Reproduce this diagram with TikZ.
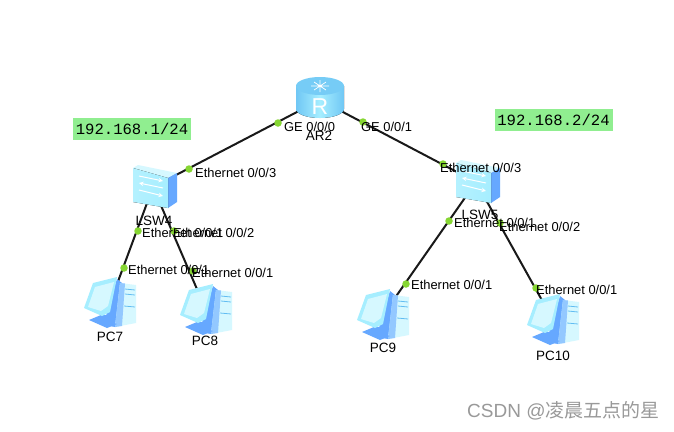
\documentclass[tikz,border=0pt]{standalone}
\usepackage{fontspec}
\setmainfont{Liberation Sans}
\setmonofont{Liberation Mono}
\newfontfamily\cjk{Noto Sans CJK SC}
\definecolor{lightblue}{HTML}{A6EEFF}
\definecolor{paleblue}{HTML}{D6F8FF}
\definecolor{midblue}{HTML}{62BDF2}
\definecolor{deepblue}{HTML}{66A8FF}
\definecolor{portgreen}{HTML}{86D632}
\definecolor{netgreen}{HTML}{90EE90}
\tikzset{
  device/.style={inner sep=0pt, minimum size=0pt},
  link/.style={line width=2pt, color=black!90},
  port/.style={circle, fill=portgreen, inner sep=0pt, minimum size=7.5pt},
  lbl/.style={anchor=west, inner sep=0pt, font=\fontsize{12.9}{14}\selectfont},
  devname/.style={inner sep=0pt, font=\fontsize{13.5}{15}\selectfont},
  net/.style={fill=netgreen, inner sep=0pt, minimum width=118pt, minimum height=22pt, font=\ttfamily\fontsize{15.6}{17}\selectfont},
  whiteline/.style={white, line width=1pt, -stealth},
  pcicon/.pic={
    \fill[deepblue] (7,-24) -- (12,-20) -- (5,24) -- (-6,22) -- (-3,9) -- cycle;
    \fill[paleblue] (10,-20) -- (26,-18) -- (26,20) -- (5,24) -- cycle;
    \fill[deepblue!60!paleblue] (10,-20) -- (15,-19.5) -- (12,23) -- (5,24) -- cycle;
    \draw[midblue, line width=0.8pt] (15,-14) -- (25,-13) (15,-9) -- (25,-8) (14,3) -- (25,4);
    \fill[deepblue] (-21,17) -- (-9,12) -- (-2,12) -- (-2,18) -- (7,21) -- (-3,25) -- cycle;
    \fill[lightblue] (-26,5) -- (-17,-20) -- (7,-26) -- (0,9) -- (-8,13) -- cycle;
    \fill[paleblue] (-22,4) -- (-15,-16) -- (4,-21) -- (-2,3) -- (-9,8) -- cycle;
  },
  routericon/.pic={
    \fill[left color=midblue!80!lightblue, right color=midblue!80!lightblue, middle color=lightblue] (-24,-14) -- (-24,9) arc[start angle=180, end angle=0, x radius=24, y radius=9] -- (24,-14) -- cycle;
    \fill[midblue!70!lightblue] (0,-14) ellipse[x radius=24, y radius=9];
    \draw[white, line width=0.7pt] (-9,-14) -- (9,-14) (0,-20) -- (0,-8) (-6,-18) -- (6,-10) (6,-18) -- (-6,-10);
  },
  switchicon/.pic={
    \fill[paleblue] (-15,-22) -- (24,-14) -- (15,-9) -- (-20,-19) -- cycle;
    \fill[deepblue] (15,-9) -- (24,-14) -- (24,15) -- (15,21) -- cycle;
    \fill[left color=lightblue!70!paleblue, right color=lightblue] (-20,-19) -- (15,-9) -- (15,21) -- (-20,15) -- cycle;
    \draw[whiteline] (-14,-11) -- (10,-6);
    \draw[whiteline] (10,1) -- (-14,-4);
    \draw[whiteline] (-14,3) -- (10,9);
  }
}
\begin{document}
\begin{tikzpicture}[x=1pt, y=-1pt]
   \path[use as bounding box, fill=white] (0,0) rectangle (674,431);
   % devices
   \draw (320,100) node[device] (ar2) {};
   \draw (153,187) node[device] (lsw4) {};
   \draw (476,182) node[device] (lsw5) {};
   \draw (110,303) node[device] (pc7) {};
   \draw (206,310) node[device] (pc8) {};
   \draw (383,315) node[device] (pc9) {};
   \draw (553,320) node[device] (pc10) {};
   % links
   \draw[link] (ar2) -- (lsw4);
   \draw[link] (ar2) -- (lsw5);
   \draw[link] (lsw4) -- (pc7);
   \draw[link] (lsw4) -- (pc8);
   \draw[link] (lsw5) -- (pc9);
   \draw[link] (lsw5) -- (pc10);
   % icons
   \pic at (ar2) {routericon};
   \draw (320,107) node[text=white, inner sep=0pt, font=\fontsize{23}{23}\selectfont] (rmark) {R};
   \pic at (lsw4) {switchicon};
   \pic at (lsw5) {switchicon};
   \pic at (pc7) {pcicon};
   \pic at (pc8) {pcicon};
   \pic at (pc9) {pcicon};
   \pic at (pc10) {pcicon};
   % ports
   \draw (278,123) node[port] (p1) {};
   \draw (189,169) node[port] (p2) {};
   \draw (363,122) node[port] (p3) {};
   \draw (443,164) node[port] (p4) {};
   \draw (138,231) node[port] (p5) {};
   \draw (124,268) node[port] (p6) {};
   \draw (174,231) node[port] (p7) {};
   \draw (193,271) node[port] (p8) {};
   \draw (449,221) node[port] (p9) {};
   \draw (406,284) node[port] (p10) {};
   \draw (500,223) node[port] (p11) {};
   \draw (536,288) node[port] (p12) {};
   % port labels
   \draw (284,127) node[lbl] (l1) {GE 0/0/0};
   \draw (195,173) node[lbl] (l2) {Ethernet 0/0/3};
   \draw (361,127) node[lbl] (l3) {GE 0/0/1};
   \draw (440,168) node[lbl] (l4) {Ethernet 0/0/3};
   \draw (142,233) node[lbl] (l5) {Ethernet 0/0/1};
   \draw (128,270) node[lbl] (l6) {Ethernet 0/0/1};
   \draw (173,233) node[lbl] (l7) {Ethernet 0/0/2};
   \draw (192,273) node[lbl] (l8) {Ethernet 0/0/1};
   \draw (454,223) node[lbl] (l9) {Ethernet 0/0/1};
   \draw (411,285) node[lbl] (l10) {Ethernet 0/0/1};
   \draw (499,227) node[lbl] (l11) {Ethernet 0/0/2};
   \draw (536,290) node[lbl] (l12) {Ethernet 0/0/1};
   % device names
   \draw (319,136) node[devname] (nar2) {AR2};
   \draw (154,221) node[devname] (nlsw4) {LSW4};
   \draw (480,215) node[devname] (nlsw5) {LSW5};
   \draw (110,337) node[devname] (npc7) {PC7};
   \draw (205,341) node[devname] (npc8) {PC8};
   \draw (383,348) node[devname] (npc9) {PC9};
   \draw (553,356) node[devname] (npc10) {PC10};
   % networks
   \draw (132,129) node[net] (net1) {192.168.1/24};
   \draw (553.5,120) node[net] (net2) {192.168.2/24};
   \draw (467,411) node[anchor=west, inner sep=0pt, text=black!40, font=\fontsize{19}{20}\selectfont] (mark) {CSDN @{\cjk 凌晨五点的星}};
\end{tikzpicture}
\end{document}
